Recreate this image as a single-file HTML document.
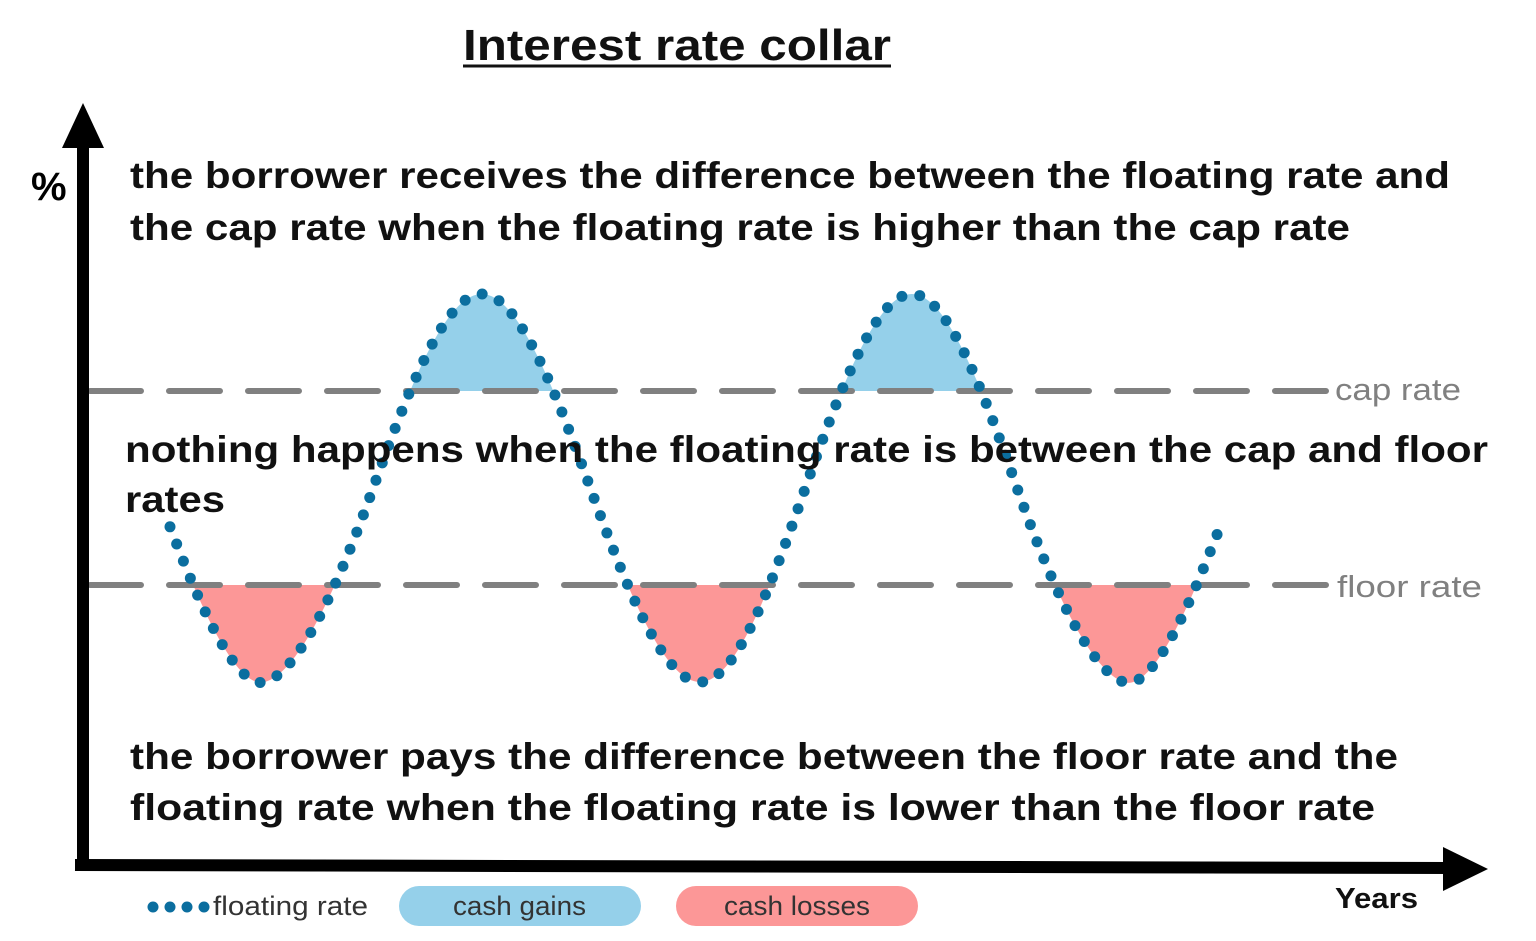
<!DOCTYPE html>
<html><head><meta charset="utf-8"><style>
html,body{margin:0;padding:0;background:#fff;}
svg{display:block;font-family:"Liberation Sans",sans-serif;}
</style></head><body>
<svg id="chart" width="1536" height="941" viewBox="0 0 1536 941">
<defs>
<clipPath id="aboveCap"><rect x="0" y="0" width="1536" height="391"/></clipPath>
<clipPath id="belowFloor"><rect x="0" y="585" width="1536" height="400"/></clipPath>
</defs>
<text x="463" y="60" textLength="428" lengthAdjust="spacingAndGlyphs" font-size="44" font-weight="bold" fill="#111">Interest rate collar</text>
<line x1="463" y1="66" x2="891" y2="66" stroke="#111" stroke-width="3"/>
<g id="fills"></g>
<line x1="90" y1="391" x2="1328" y2="391" stroke="#808080" stroke-width="6" stroke-linecap="round" stroke-dasharray="51,28"/>
<line x1="90" y1="585" x2="1328" y2="585" stroke="#808080" stroke-width="6" stroke-linecap="round" stroke-dasharray="51,28"/>
<text x="1335" y="400" textLength="126" lengthAdjust="spacingAndGlyphs" font-size="31" fill="#808080">cap rate</text>
<text x="1337" y="597" textLength="145" lengthAdjust="spacingAndGlyphs" font-size="31" fill="#808080">floor rate</text>
<g id="dots"></g>
<line x1="83" y1="140" x2="83" y2="871" stroke="#000" stroke-width="12"/>
<polygon points="83,103 62,148 104,148" fill="#000"/>
<line x1="75" y1="865" x2="1450" y2="868" stroke="#000" stroke-width="12"/>
<polygon points="1488,869 1443,847 1443,891" fill="#000"/>
<text x="31" y="200" font-size="40" font-weight="bold" fill="#000">%</text>
<text x="1335" y="908" textLength="83" lengthAdjust="spacingAndGlyphs" font-size="29" font-weight="bold" fill="#111">Years</text>
<g font-size="37" font-weight="bold" fill="#111">
<text x="130" y="188" textLength="1320" lengthAdjust="spacingAndGlyphs">the borrower receives the difference between the floating rate and</text>
<text x="130" y="240" textLength="1220" lengthAdjust="spacingAndGlyphs">the cap rate when the floating rate is higher than the cap rate</text>
<text x="125" y="462" textLength="1363" lengthAdjust="spacingAndGlyphs">nothing happens when the floating rate is between the cap and floor</text>
<text x="125" y="512" textLength="100" lengthAdjust="spacingAndGlyphs">rates</text>
<text x="130" y="769" textLength="1268" lengthAdjust="spacingAndGlyphs">the borrower pays the difference between the floor rate and the</text>
<text x="130" y="820" textLength="1245" lengthAdjust="spacingAndGlyphs">floating rate when the floating rate is lower than the floor rate</text>
</g>
<g>
<circle cx="153" cy="907" r="5.5" fill="#0b6e9f"/><circle cx="170" cy="907" r="5.5" fill="#0b6e9f"/><circle cx="187" cy="907" r="5.5" fill="#0b6e9f"/><circle cx="204" cy="907" r="5.5" fill="#0b6e9f"/>
<text x="213" y="915" textLength="155" lengthAdjust="spacingAndGlyphs" font-size="27" fill="#333">floating rate</text>
<rect x="399" y="886" width="242" height="40" rx="20" fill="#95d0ea"/>
<text x="453" y="915" textLength="133" lengthAdjust="spacingAndGlyphs" font-size="27" fill="#333">cash gains</text>
<rect x="676" y="886" width="242" height="40" rx="20" fill="#fc9797"/>
<text x="724" y="915" textLength="146" lengthAdjust="spacingAndGlyphs" font-size="27" fill="#333">cash losses</text>
</g>
</svg>
<script>
const times = [0, 0.884, 1.89, 2.9, 3.91, 4.93, 5.91, 6.9, 7.88, 8.87, 9.74];
const rates = [2.6, 1, 3, 5, 3, 1, 3, 5, 3, 1, 2.52];
const capRate = 4;
const floorRate = 2;
const xScale = t => 170 + t * 107.5;
const yScale = v => 585 - (v - floorRate) * 97;
const NS = 'http://www.w3.org/2000/svg';
const pts = times.map((t, i) => [xScale(t), yScale(rates[i])]);
function spline(p) {
  const k = 0.26;
  let d = 'M' + p[0][0] + ',' + p[0][1];
  for (let i = 0; i < p.length - 1; i++) {
    const p0 = p[i - 1] || p[i], p1 = p[i], p2 = p[i + 1], p3 = p[i + 2] || p[i + 1];
    const c1 = [p1[0] + (p2[0] - p0[0]) * k * 0.64, p1[1] + (p2[1] - p0[1]) * k];
    const c2 = [p2[0] - (p3[0] - p1[0]) * k * 0.64, p2[1] - (p3[1] - p1[1]) * k];
    d += ' C' + c1 + ' ' + c2 + ' ' + p2;
  }
  return d;
}
const curveD = spline(pts);
const fills = document.getElementById('fills');
const x0 = pts[0][0], x1 = pts[pts.length - 1][0];
const gain = document.createElementNS(NS, 'path');
gain.setAttribute('d', curveD + ' L' + x1 + ',' + yScale(capRate) + ' L' + x0 + ',' + yScale(capRate) + ' Z');
gain.setAttribute('fill', '#95d0ea');
gain.setAttribute('clip-path', 'url(#aboveCap)');


fills.appendChild(gain);
const loss = document.createElementNS(NS, 'path');
loss.setAttribute('d', curveD + ' L' + x1 + ',' + yScale(floorRate) + ' L' + x0 + ',' + yScale(floorRate) + ' Z');
loss.setAttribute('fill', '#fc9797');
loss.setAttribute('clip-path', 'url(#belowFloor)');


fills.appendChild(loss);
const guide = document.createElementNS(NS, 'path');
guide.setAttribute('d', curveD);
guide.setAttribute('fill', 'none');
document.getElementById('chart').appendChild(guide);
const len = guide.getTotalLength();
const n = Math.round(len / 18.5);
const dots = document.getElementById('dots');
for (let i = 0; i <= n; i++) {
  const p = guide.getPointAtLength(len * i / n);
  const c = document.createElementNS(NS, 'circle');
  c.setAttribute('cx', p.x); c.setAttribute('cy', p.y); c.setAttribute('r', 5.5);
  c.setAttribute('fill', '#0b6e9f');
  
  
  dots.appendChild(c);
}
guide.remove();
</script>
</body></html>
